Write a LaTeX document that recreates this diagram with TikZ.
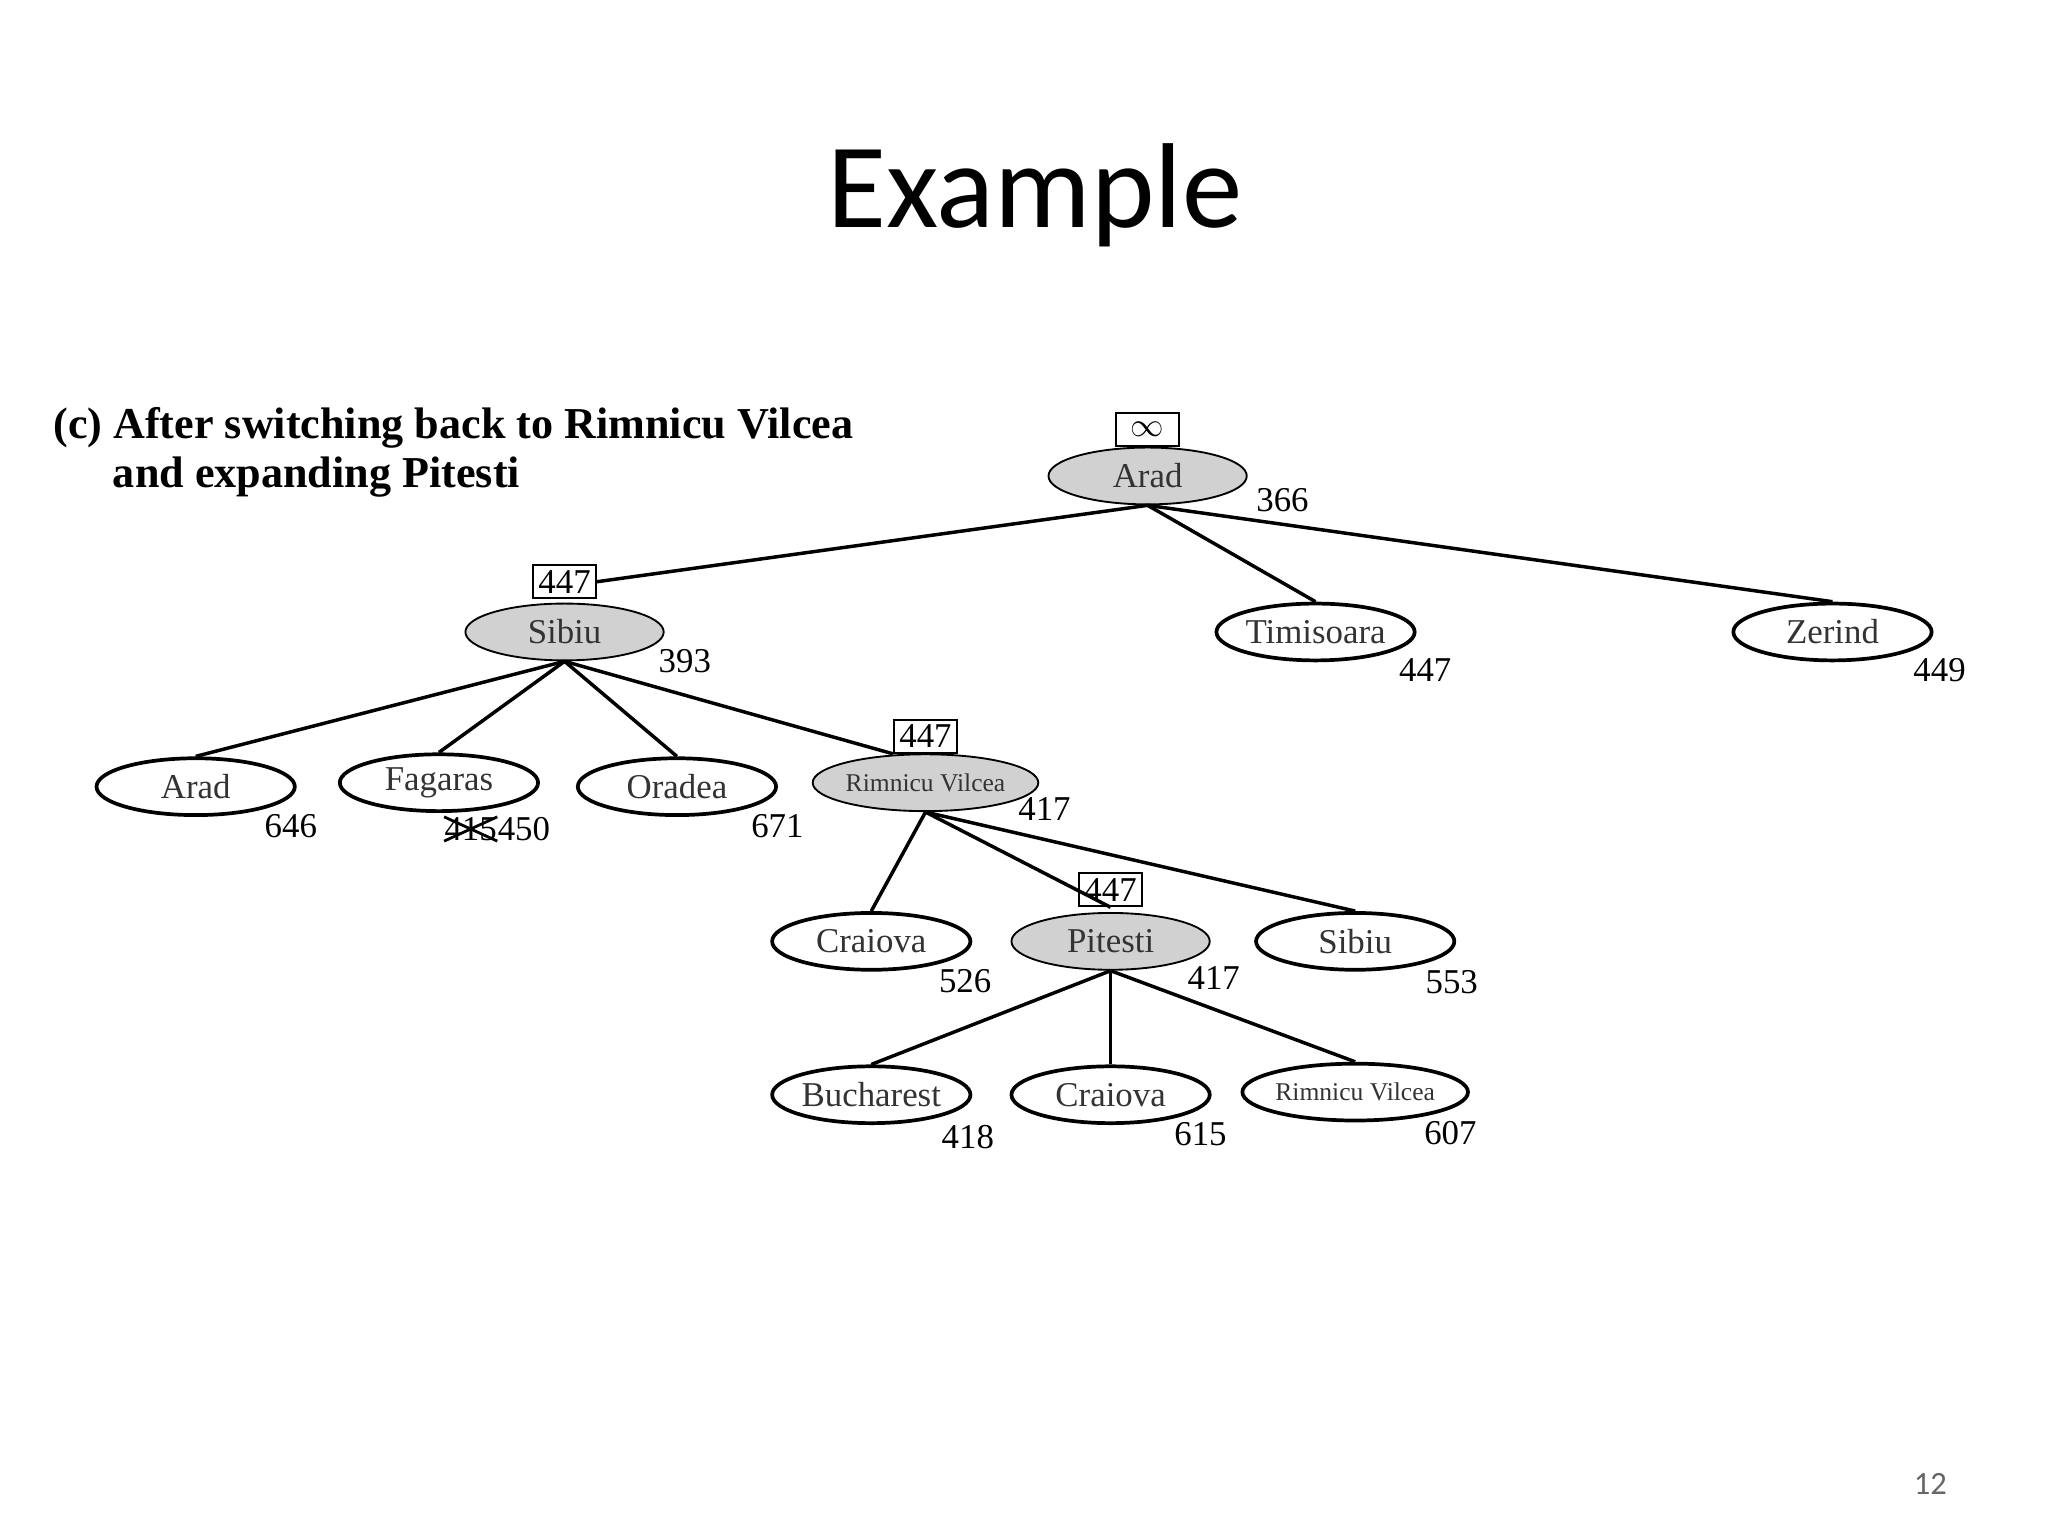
\documentclass[tikz,border=0pt]{standalone}
\usetikzlibrary{shapes.geometric}
\usepackage{fontspec}
\setmainfont{Liberation Serif}
\newfontfamily\titlefont{Carlito}
\begin{document}
\begin{tikzpicture}[x=0.02cm,y=-0.02cm,
  city/.style={draw,ellipse,line width=1.6pt,minimum width=3cm,minimum height=0.86cm,inner sep=0pt,font=\fontsize{15}{15}\selectfont,text=black!80},
  exp/.style={city,fill=black!18,line width=0.8pt},
  val/.style={font=\fontsize{15}{15}\selectfont,inner sep=0pt},
  fbox/.style={draw,line width=0.8pt,inner sep=1.5pt,minimum width=0.95cm,minimum height=0.5cm,font=\fontsize{15}{15}\selectfont},
  edge/.style={line width=1.5pt}]
\useasboundingbox (0,0) rectangle (1549,1162);
\fill[white] (0,0) rectangle (1549,1162);
\node[font=\titlefont\fontsize{52}{52}\selectfont] (title) at (783,148) {Example};
\node[anchor=north west,align=left,font=\bfseries\fontsize{19}{21}\selectfont,inner sep=0pt] (cap) at (40,308) {(c) After switching back to Rimnicu Vilcea\\\hspace{1.35em}and expanding Pitesti};
\node[exp] (arad) at (868,360) {Arad};
\node[fbox] (barad) at (868,325) {$\infty$};
\node[val] (varad) at (970,378) {366};
\node[exp] (sibiu) at (427,478) {Sibiu};
\node[fbox] (bsibiu) at (427,440) {447};
\node[val] (vsibiu) at (518,500) {393};
\node[city] (tim) at (995,478) {Timisoara};
\node[val] (vtim) at (1078,507) {447};
\node[city] (zer) at (1386,478) {Zerind};
\node[val] (vzer) at (1467,507) {449};
\node[city] (arad2) at (148,595) {Arad};
\node[val] (varad2) at (220,625) {646};
\node[city] (fag) at (332,592) {Fagaras};
\node[val] (vfagold) at (356,627) {415};
\draw[line width=1.2pt] (vfagold.south west) -- (vfagold.north east) (vfagold.north west) -- (vfagold.south east);
\node[val,anchor=west] (vfag) at (vfagold.east) {450};
\node[city] (ora) at (512,595) {Oradea};
\node[val] (vora) at (588,625) {671};
\node[exp,font=\fontsize{11}{11}\selectfont] (rv) at (700,592) {Rimnicu Vilcea};
\node[fbox] (brv) at (700,557) {447};
\node[val] (vrv) at (790,612) {417};
\node[city] (cra) at (659,712) {Craiova};
\node[val] (vcra) at (730,742) {526};
\node[exp] (pit) at (840,712) {Pitesti};
\node[fbox] (bpit) at (840,673) {447};
\node[val] (vpit) at (918,740) {417};
\node[city] (sib2) at (1025,712) {Sibiu};
\node[val] (vsib2) at (1098,743) {553};
\node[city] (buc) at (659,828) {Bucharest};
\node[val] (vbuc) at (732,860) {418};
\node[city] (cra2) at (840,828) {Craiova};
\node[val] (vcra2) at (908,858) {615};
\node[city,font=\fontsize{11}{11}\selectfont] (rv2) at (1025,826) {Rimnicu Vilcea};
\node[val] (vrv2) at (1097,857) {607};
\node[font=\titlefont\fontsize{14}{14}\selectfont,text=black!60] (pg) at (1460,1122) {12};
\draw[edge] (arad.south) -- (bsibiu.east);
\draw[edge] (arad.south) -- (tim.north);
\draw[edge] (arad.south) -- (zer.north);
\draw[edge] (sibiu.south) -- (arad2.north);
\draw[edge] (sibiu.south) -- (fag.north);
\draw[edge] (sibiu.south) -- (ora.north);
\draw[edge] (sibiu.south) -- (brv.south west);
\draw[edge] (rv.south) -- (cra.north);
\draw[edge] (rv.south) -- (bpit.south);
\draw[edge] (rv.south) -- (sib2.north);
\draw[edge] (pit.south) -- (buc.north);
\draw[edge] (pit.south) -- (cra2.north);
\draw[edge] (pit.south) -- (rv2.north);
\end{tikzpicture}
\end{document}
